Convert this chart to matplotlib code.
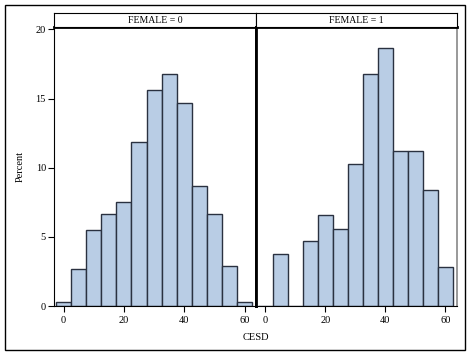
import matplotlib
matplotlib.use("Agg")
import matplotlib.pyplot as plt
from matplotlib.patches import Rectangle
import numpy as np

plt.rcParams['font.family'] = ['Liberation Serif', 'DejaVu Serif']

bin_centers = [0, 5, 10, 15, 20, 25, 30, 35, 40, 45, 50, 55, 60]
female0_pct = [0.3, 2.65, 5.5, 6.65, 7.5, 11.85, 15.6, 16.75, 14.7, 8.7, 6.65, 2.9, 0.3]
female1_pct = [0.0, 3.75, 0.0, 4.7, 6.55, 5.6, 10.3, 16.8, 18.65, 11.2, 11.2, 8.4, 2.85]
panel_titles = ["FEMALE = 0", "FEMALE = 1"]
x_ticks = [0, 20, 40, 60]
y_ticks = [0, 5, 10, 15, 20]

W, H = 472, 354
fig = plt.figure(figsize=(W/100, H/100), dpi=100)

def box(x0, y0, x1, y1):
    return [x0/W, 1 - y1/H, (x1-x0)/W, (y1-y0)/H]

fc = '#B9CDE5'
ec = '#2A3140'
fs = 7.5

panels = [(54.3, 256.0), (256.0, 456.7)]
datas = [female0_pct, female1_pct]
for i, ((x0, x1), vals, title) in enumerate(zip(panels, datas, panel_titles)):
    ax = fig.add_axes(box(x0, 27, x1, 306))
    ax.bar(bin_centers, vals, width=5, color=fc, edgecolor=ec, linewidth=1.0, align='center')
    ax.set_xlim(-3.1, 63.8)
    ax.set_ylim(0, 20.18)
    ax.set_xticks(x_ticks)
    ax.set_xticklabels([str(t) for t in x_ticks], fontsize=fs)
    ax.tick_params(axis='x', direction='out', length=4, width=0.8, pad=3, colors='black')
    for s in ax.spines.values():
        s.set_color('black')
        s.set_linewidth(0.8)
    ax.spines['top'].set_linewidth(2.0)
    if i == 0:
        ax.set_yticks(y_ticks)
        ax.set_yticklabels([str(t) for t in y_ticks], fontsize=fs)
        ax.tick_params(axis='y', direction='out', length=4, width=0.8, pad=2)
        ax.spines['right'].set_linewidth(2.0)
        ax.set_ylabel('Percent', fontsize=fs, labelpad=8)
    else:
        ax.set_yticks([])
        ax.spines['left'].set_linewidth(2.0)
        ax.spines['right'].set_color('#888888')
        ax.spines['right'].set_linewidth(1.2)
        ax.set_xlabel('CESD', fontsize=fs)
        ax.xaxis.set_label_coords(0.0, -0.095)
    # header strip
    hx = fig.add_axes(box(x0, 13.3, x1, 27))
    hx.set_xticks([]); hx.set_yticks([])
    hx.set_facecolor('white')
    for s in hx.spines.values():
        s.set_color('black')
        s.set_linewidth(0.8)
    hx.text(0.5, 0.45, title, ha='center', va='center', fontsize=7, transform=hx.transAxes)

# outer border
fig.patches.append(Rectangle((5/W, 1 - 350/H), 460/W, 345/H, transform=fig.transFigure,
                             fill=False, edgecolor='black', linewidth=1.0))

fig.savefig('out.png', dpi=100)
